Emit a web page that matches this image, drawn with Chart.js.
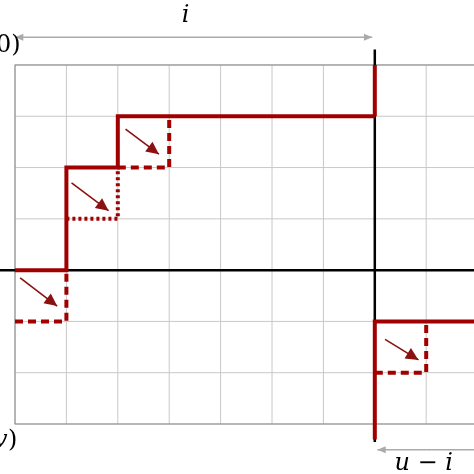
<!DOCTYPE html><html><head><script src="https://cdn.jsdelivr.net/npm/chart.js@4"></script>
<style>body{margin:0;background:#fff}#w{width:474px;height:474px}</style></head><body><div id="w"><canvas id="c"></canvas></div><script>
const solid=[[[0,0],[1,0],[1,2],[2,2],[2,3],[7,3]],[[7,3],[7,4]],[[7,-3.3],[7,-1],[9,-1]]];
const dashed=[[[0,-1],[1,-1],[1,0]],[[2,2],[3,2],[3,3]],[[7,-2],[8,-2],[8,-1]]];
const dotted=[[[1,1],[2,1],[2,2]]];
const arrows=[[0.1,-0.15,0.82,-0.7],[1.1,1.7,1.82,1.16],[2.15,2.75,2.8,2.26],[7.2,-1.35,7.85,-1.75]];
const gridX=[0,1,2,3,4,5,6,7,8],gridY=[-3,-2,-1,0,1,2,3,4];
const RED='#a00000';
const ds=[];
solid.forEach(s=>ds.push({data:s.map(p=>({x:p[0],y:p[1]})),borderColor:RED,borderWidth:4,pointRadius:0,showLine:true,clip:false}));
dashed.forEach(s=>ds.push({data:s.map(p=>({x:p[0],y:p[1]})),borderColor:RED,borderWidth:4,borderDash:[8,5],pointRadius:0,showLine:true}));
dotted.forEach(s=>ds.push({data:s.map(p=>({x:p[0],y:p[1]})),borderColor:RED,borderWidth:4,borderDash:[3,3],pointRadius:0,showLine:true}));
function arrow(ctx,x1,y1,x2,y2,col,w,h,sp){ctx.strokeStyle=col;ctx.fillStyle=col;ctx.lineWidth=w;ctx.beginPath();ctx.moveTo(x1,y1);ctx.lineTo(x2,y2);ctx.stroke();
const a=Math.atan2(y2-y1,x2-x1);ctx.beginPath();ctx.moveTo(x2,y2);ctx.lineTo(x2-h*Math.cos(a-sp),y2-h*Math.sin(a-sp));ctx.lineTo(x2-h*Math.cos(a+sp),y2-h*Math.sin(a+sp));ctx.closePath();ctx.fill();}
const bg={id:'bg',beforeDatasetsDraw(c){const x=c.scales.x,y=c.scales.y,ctx=c.ctx;ctx.save();
const L=x.getPixelForValue(0),R=c.width,T=y.getPixelForValue(4),B=y.getPixelForValue(-3);
ctx.strokeStyle='#c8c8c8';ctx.lineWidth=1;
gridX.forEach(v=>{const p=x.getPixelForValue(v);ctx.beginPath();ctx.moveTo(p,T);ctx.lineTo(p,B);ctx.stroke();});
gridY.forEach(v=>{const p=y.getPixelForValue(v);ctx.beginPath();ctx.moveTo(L,p);ctx.lineTo(R,p);ctx.stroke();});
ctx.strokeStyle='#888';ctx.strokeRect(L,T,R-L+5,B-T);
ctx.strokeStyle='#000';ctx.lineWidth=2.5;
let p=y.getPixelForValue(0);ctx.beginPath();ctx.moveTo(0,p);ctx.lineTo(R,p);ctx.stroke();
p=x.getPixelForValue(7);ctx.beginPath();ctx.moveTo(p,y.getPixelForValue(4.3));ctx.lineTo(p,y.getPixelForValue(-3.35));ctx.stroke();
ctx.restore();},
afterDatasetsDraw(c){const x=c.scales.x,y=c.scales.y,ctx=c.ctx;ctx.save();
arrows.forEach(a=>arrow(ctx,x.getPixelForValue(a[0]),y.getPixelForValue(a[1]),x.getPixelForValue(a[2]),y.getPixelForValue(a[3]),'#8b1010',1.6,14,0.45));
const ya=y.getPixelForValue(4.54);
arrow(ctx,x.getPixelForValue(3.5),ya,x.getPixelForValue(0),ya,'#aaa',1.5,9,0.4);
arrow(ctx,x.getPixelForValue(3.5),ya,x.getPixelForValue(6.95),ya,'#aaa',1.5,9,0.4);
const yb=y.getPixelForValue(-3.5);
arrow(ctx,x.getPixelForValue(8),yb,x.getPixelForValue(7.05),yb,'#aaa',1.5,9,0.4);
arrow(ctx,x.getPixelForValue(8),yb,x.getPixelForValue(9.2),yb,'#aaa',1.5,9,0.4);
ctx.fillStyle='#000';ctx.font='italic 24px "DejaVu Serif", serif';ctx.textAlign='center';ctx.textBaseline='middle';
ctx.fillText('i',x.getPixelForValue(3.32),y.getPixelForValue(4.95));
ctx.fillText('u − i',x.getPixelForValue(7.95),y.getPixelForValue(-3.78));
ctx.textAlign='left';ctx.font='24px "DejaVu Serif", serif';
ctx.fillText('0)',-4,y.getPixelForValue(4.37));
ctx.font='italic 24px "DejaVu Serif", serif';ctx.fillText('v',-6,y.getPixelForValue(-3.33));
ctx.font='24px "DejaVu Serif", serif';ctx.fillText(')',8,y.getPixelForValue(-3.33));
ctx.restore();}};
new Chart(document.getElementById('c'),{type:'scatter',data:{datasets:ds},plugins:[bg],
options:{responsive:true,maintainAspectRatio:false,animation:false,layout:{padding:0},
plugins:{legend:{display:false},tooltip:{enabled:false}},
scales:{x:{type:'linear',min:-0.292,max:8.93,display:false},y:{type:'linear',min:-3.975,max:5.267,display:false}}}});
</script></body></html>
